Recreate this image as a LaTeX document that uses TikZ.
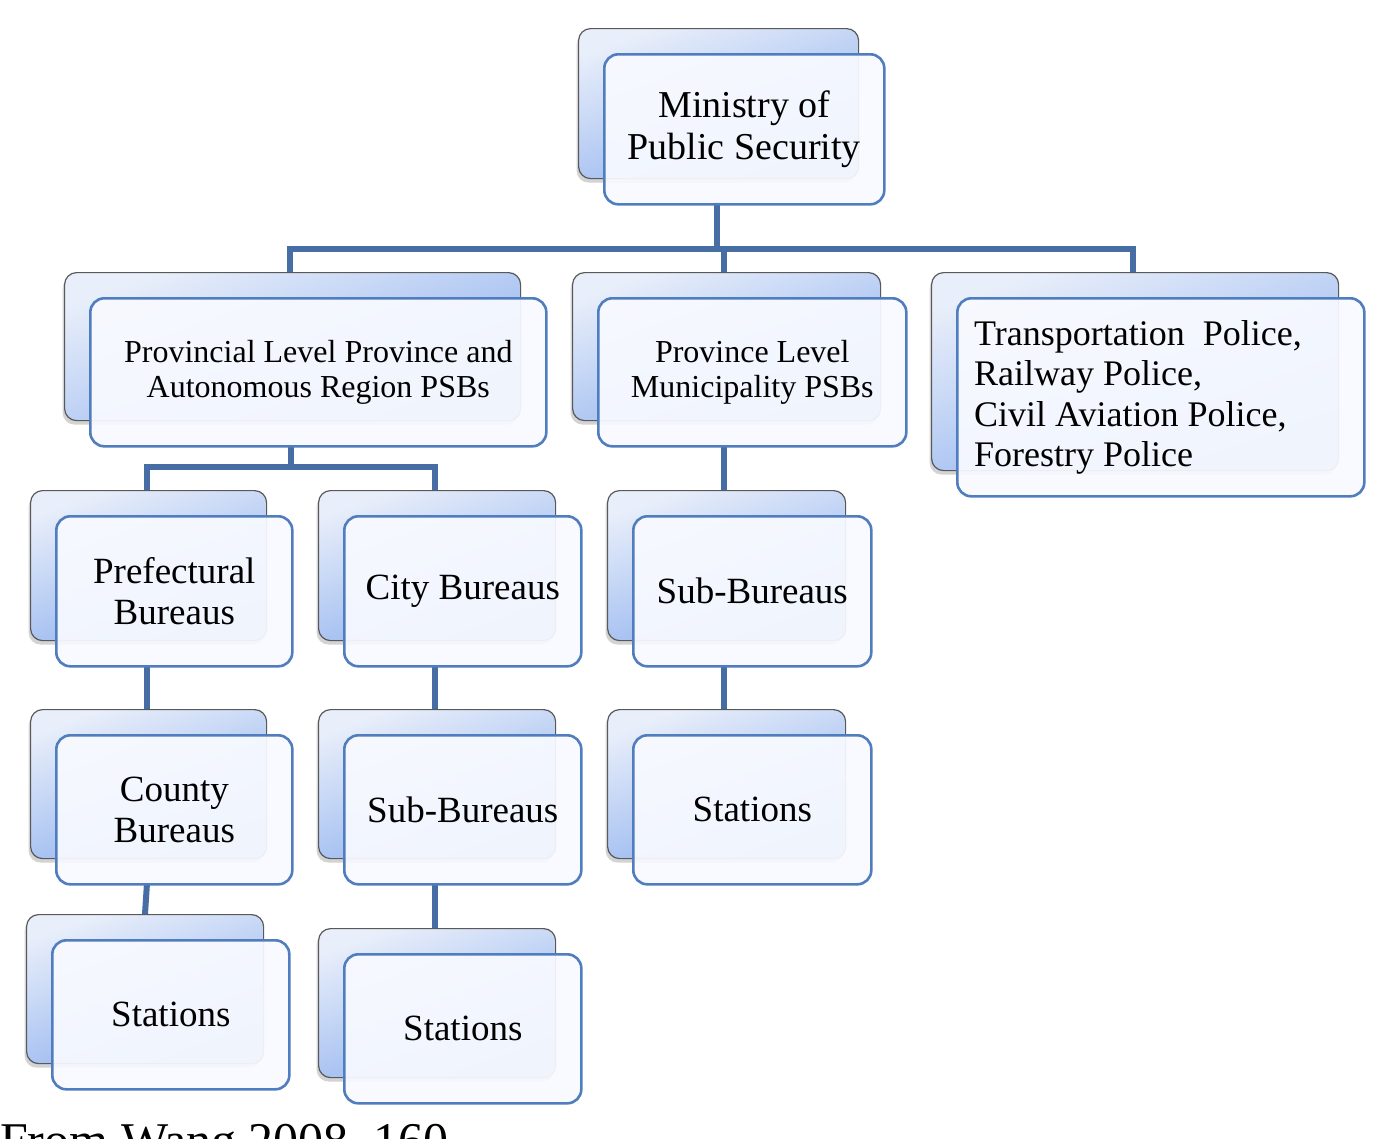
\documentclass[tikz,border=0pt]{standalone}
\usepackage{fontspec}
\setmainfont{Liberation Serif}
\usetikzlibrary{shadows}
\definecolor{lineblue}{RGB}{70,110,165}
\definecolor{frontb}{RGB}{80,125,190}
\definecolor{backtop}{RGB}{232,238,250}
\definecolor{backbot}{RGB}{140,175,238}
\definecolor{frontfill}{RGB}{248,250,255}
\tikzset{
  backbox/.style={draw=black!65, line width=1.2pt, rounded corners=12pt, top color=backtop, bottom color=backbot, shading angle=20, drop shadow={opacity=0.35, shadow xshift=-2pt, shadow yshift=-4pt}, anchor=north west, inner sep=0pt},
  frontbox/.style={draw=frontb, line width=2.6pt, rounded corners=14pt, fill=frontfill, fill opacity=0.93, text opacity=1, anchor=north west, inner sep=0pt},
  conn/.style={draw=lineblue, line width=6pt},
}
% name, x, y, w, h, fontsize, align, text
\newcommand{\orgbox}[8]{%
  \node[backbox, minimum width=#4pt, minimum height=#5pt] (#1b) at (#2,#3) {};
  \node[frontbox, minimum width=#4pt, minimum height=#5pt] (#1) at ({#2+25},{#3+25}) {};
  \node[align=#7, font=\fontsize{#6}{\dimexpr #6pt*112/100\relax}\selectfont] at (#1.center) {#8};
}
\newcommand{\orgboxl}[7]{%
  \node[backbox, minimum width=#4pt, minimum height=#5pt] (#1b) at (#2,#3) {};
  \node[frontbox, minimum width=#4pt, minimum height=#5pt] (#1) at ({#2+25},{#3+25}) {};
  \node[align=left, anchor=west, inner sep=0pt, font=\fontsize{#6}{\dimexpr #6pt*112/100\relax}\selectfont] at ([xshift=18pt]#1.west) {#7};
}
\begin{document}
\begin{tikzpicture}[x=1pt,y=-1pt]
\useasboundingbox (0,0) rectangle (1389,1138);
\path
  coordinate (minS) at (717,202)
  coordinate (provS) at (291,446)
  coordinate (muniS) at (724,446)
  coordinate (prefS) at (147,665)
  coordinate (cityS) at (435,665)
  coordinate (subMS) at (724,665)
  coordinate (countyS) at (147,883)
  coordinate (subLS) at (435,883)
  coordinate (provN) at (290,272)
  coordinate (muniN) at (724,272)
  coordinate (transN) at (1133,272)
  coordinate (prefN) at (147,490)
  coordinate (cityN) at (435,490)
  coordinate (subMN) at (724,490)
  coordinate (countyN) at (147,709)
  coordinate (subLN) at (435,709)
  coordinate (stMN) at (724,709)
  coordinate (stLN) at (145,914)
  coordinate (stCN) at (435,928);
\draw[conn] (minS) -- (717,249) -| (provN);
\draw[conn] (minS) -- (717,249) -| (transN);
\draw[conn] (717,249) -| (muniN);
\draw[conn] (provS) -- (291,467) -| (prefN);
\draw[conn] (291,467) -| (cityN);
\draw[conn] (muniS) -- (subMN);
\draw[conn] (prefS) -- (countyN);
\draw[conn] (cityS) -- (subLN);
\draw[conn] (subMS) -- (stMN);
\draw[conn] (countyS) -- (stLN);
\draw[conn] (subLS) -- (stCN);

\orgbox{min}{578}{28}{280}{150}{38}{center}{Ministry of\\Public Security}
\orgbox{prov}{64}{272}{456}{148}{32}{center}{Provincial Level Province and\\Autonomous Region PSBs}
\orgbox{muni}{572}{272}{308}{148}{32}{center}{Province Level\\Municipality PSBs}
\orgboxl{trans}{931}{272}{407}{198}{36}{Transportation\ \ Police,\\Railway Police,\\Civil Aviation Police,\\Forestry Police}
\orgbox{pref}{30}{490}{236}{150}{37}{center}{Prefectural\\Bureaus}
\orgbox{city}{318}{490}{237}{150}{37}{center}{City Bureaus}
\orgbox{subM}{607}{490}{238}{150}{37}{center}{Sub-Bureaus}
\orgbox{county}{30}{709}{236}{149}{37}{center}{County\\Bureaus}
\orgbox{subL}{318}{709}{237}{149}{37}{center}{Sub-Bureaus}
\orgbox{stM}{607}{709}{238}{149}{37}{center}{Stations}
\orgbox{stL}{26}{914}{237}{149}{37}{center}{Stations}
\orgbox{stC}{318}{928}{237}{149}{37}{center}{Stations}

\begin{scope}
\clip (0,0) rectangle (1389,1138);
\node[anchor=north west, inner sep=0pt, font=\fontsize{50}{54}\selectfont] (src) at (0,1124) {From Wang 2008, 160};
\end{scope}
\end{tikzpicture}
\end{document}
